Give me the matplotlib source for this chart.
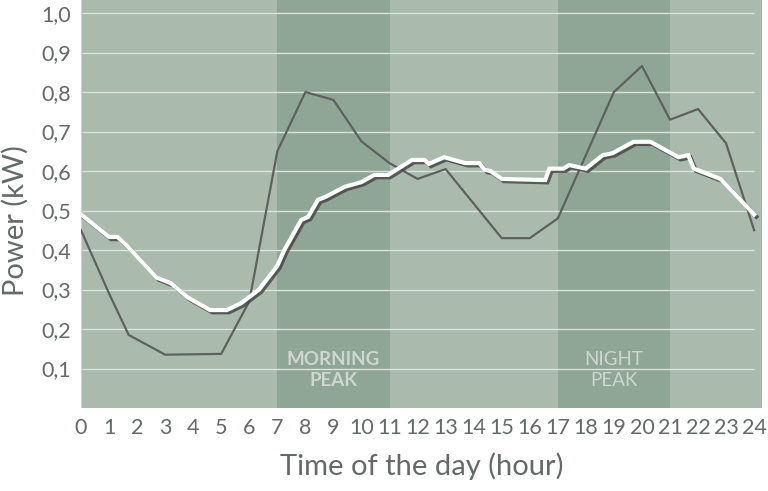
import matplotlib
matplotlib.use('Agg')
import matplotlib.pyplot as plt
import matplotlib.patheffects as pe

plt.rcParams['font.family'] = ['Lato', 'DejaVu Sans']

# single household profile (thin grey line)
hours_single = [0, 1, 1.7, 3, 5, 6, 7, 8, 9, 10, 11, 12, 13, 15, 16, 17, 19, 20, 21, 22, 23, 24]
power_single = [0.45, 0.29, 0.185, 0.135, 0.137, 0.27, 0.65, 0.80, 0.78, 0.675, 0.62, 0.58,
                0.605, 0.43, 0.43, 0.48, 0.80, 0.866, 0.73, 0.757, 0.67, 0.45]

# average profile (thick white line)
hours_avg = [0, 1.0, 1.3, 1.65, 2.7, 3.2, 3.8, 4.6, 5.2, 5.7, 6.35, 7.0, 7.25, 7.85, 8.1,
             8.45, 8.7, 9.4, 10.0, 10.45, 10.95, 11.8, 12.25, 12.4, 12.95, 13.3, 13.7, 14.2,
             14.4, 14.6, 15.0, 16.55, 16.7, 17.2, 17.4, 18.0, 18.6, 18.95, 19.7, 20.3, 21.3,
             21.65, 21.85, 22.8, 24.0]
power_avg = [0.49, 0.433, 0.433, 0.41, 0.33, 0.316, 0.28, 0.248, 0.248, 0.265, 0.30, 0.36,
             0.40, 0.476, 0.484, 0.527, 0.534, 0.56, 0.572, 0.59, 0.59, 0.628, 0.628, 0.618,
             0.635, 0.628, 0.62, 0.62, 0.603, 0.60, 0.58, 0.577, 0.606, 0.606, 0.615, 0.606,
             0.64, 0.645, 0.674, 0.674, 0.635, 0.64, 0.606, 0.58, 0.49]

peaks = [(7, 11, 'MORNING\nPEAK', 'bold'), (17, 21, 'NIGHT\nPEAK', 'normal')]
yticks = [0.1, 0.2, 0.3, 0.4, 0.5, 0.6, 0.7, 0.8, 0.9, 1.0]
ytick_labels = ['0,1', '0,2', '0,3', '0,4', '0,5', '0,6', '0,7', '0,8', '0,9', '1,0']
xticks = list(range(25))

text_col = '#646a66'

fig = plt.figure(figsize=(7.68, 4.91), dpi=100)
ax = fig.add_axes([81 / 768, 83 / 491, 681 / 768, 408 / 491])
ax.set_facecolor('#aabbad')
ax.set_xlim(0, 24.28)
ax.set_ylim(0, 1.033)

for x0, x1, label, weight in peaks:
    ax.axvspan(x0, x1, color='#8fa696', lw=0, zorder=0)
    ax.text((x0 + x1) / 2, 0.097, label, ha='center', va='center', color='#cdd6cf',
            fontsize=13.5, fontweight=weight, linespacing=1.3, zorder=1)

ax.hlines(yticks, 0.05, 24, colors='#dbe3dc', lw=1.0, zorder=1)

ax.plot(hours_single, power_single, color='#5d625f', lw=1.6, zorder=2)
ax.plot(hours_avg, power_avg, color='white', lw=3.0, zorder=3,
        solid_joinstyle='miter',
        path_effects=[pe.SimpleLineShadow(offset=(1.6, -1.6), shadow_color='#454a47', alpha=0.85),
                      pe.Normal()])

for s in ax.spines.values():
    s.set_visible(False)
ax.axvline(0, color='#d5dbd6', lw=1.2, zorder=0.5)

ax.set_xticks(xticks)
ax.set_xticklabels([str(h) for h in xticks])
ax.set_yticks(yticks)
ax.set_yticklabels(ytick_labels)
ax.tick_params(length=0, colors=text_col, labelsize=15.5)
ax.tick_params(axis='x', pad=7)
ax.tick_params(axis='y', pad=7)

ax.set_xlabel('Time of the day (hour)', fontsize=21, color=text_col)
ax.xaxis.set_label_coords(0.5, -0.11)
ax.set_ylabel('Power (kW)', fontsize=21, color=text_col)
ax.yaxis.set_label_coords(-0.077, 0.46)

fig.savefig('out.png', dpi=100, facecolor='white')
